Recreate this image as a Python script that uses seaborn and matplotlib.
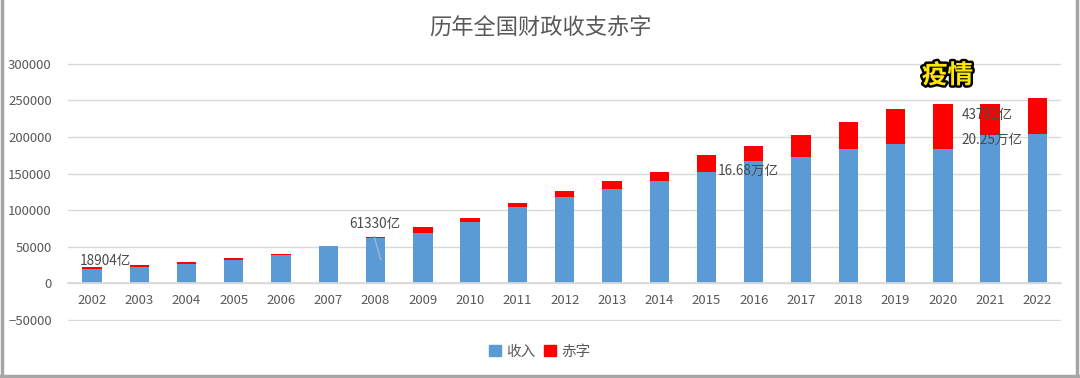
import pandas as pd
import matplotlib.pyplot as plt
import matplotlib.patheffects as pe
from matplotlib.lines import Line2D
from matplotlib.patches import Patch
import seaborn as sns

# 年份, 收入 and 赤字 (亿元)
years = ['2002', '2003', '2004', '2005', '2006', '2007', '2008', '2009', '2010', '2011', '2012',
         '2013', '2014', '2015', '2016', '2017', '2018', '2019', '2020', '2021', '2022']
revenue = [18904, 21715, 26396, 31649, 38760, 51322, 61330, 68518, 83102, 103874, 117254,
           129210, 140370, 152269, 166800, 172593, 183360, 190390, 182914, 202539, 203703]
deficit = [3149, 2935, 2091, 2281, 1663, 0, 1263, 7782, 6772, 5374, 8699,
           11002, 11416, 23609, 21500, 30492, 37546, 48484, 62765, 43134, 49700]
y_ticks = [-50000, 0, 50000, 100000, 150000, 200000, 250000, 300000]

df = pd.DataFrame({'年份': years, '收入': revenue, '赤字': deficit})
df['支出'] = df['收入'] + df['赤字']

sns.set_theme(style='white')
plt.rcParams['font.family'] = ['Noto Sans CJK SC', 'DejaVu Sans']
grey = '#595959'
blue = '#5b9bd5'
red = '#ff0000'

fig = plt.figure(figsize=(10.8, 3.78), dpi=100)
ax = fig.add_axes([0.0633, 0.152, 0.9191, 0.681])

# stacked look: total (red) first, revenue (blue) on top of it
sns.barplot(data=df, x='年份', y='支出', color=red, saturation=1, width=0.41, linewidth=0, ax=ax)
sns.barplot(data=df, x='年份', y='收入', color=blue, saturation=1, width=0.41, linewidth=0, ax=ax)

ax.set_ylim(-51000, 301000)
ax.set_xlim(-0.5, len(years) - 0.5)
ax.set_yticks(y_ticks)
ax.yaxis.grid(True, color='#d9d9d9', linewidth=1)
ax.set_axisbelow(True)
ax.set_xlabel('')
ax.set_ylabel('')
for s in ['top', 'right', 'left']:
    ax.spines[s].set_visible(False)
ax.spines['bottom'].set_position(('data', 0))
ax.spines['bottom'].set_color('#d9d9d9')
ax.tick_params(axis='both', length=0, labelsize=9.5, labelcolor=grey)
ax.tick_params(axis='x', pad=8)
ax.tick_params(axis='y', pad=12)

fig.text(0.5, 0.928, '历年全国财政收支赤字', ha='center', va='center', fontsize=16, color=grey)

# annotations
lab = dict(fontsize=9.8, color='#4a4a4a', va='center', ha='left')
ax.text(-0.25, 30500, '18904亿', **lab)
ax.text(5.45, 81200, '61330亿', **lab)
ax.plot([5.97, 6.11], [64000, 32000], color='#9fb6d8', lw=1)
ax.text(13.23, 153800, '16.68万亿', **lab)
ax.text(18.39, 230600, '43782亿', **lab)
ax.text(18.39, 196300, '20.25万亿', **lab)
ax.text(18.1, 284000, '疫情', fontsize=18.5, fontweight='heavy', color='#ffe800', ha='center', va='center',
        path_effects=[pe.withStroke(linewidth=3.5, foreground='black')])

handles = [Patch(color=blue, label='收入'), Patch(color=red, label='赤字')]
fig.legend(handles=handles, loc='center', bbox_to_anchor=(0.5, 0.069), ncol=2, frameon=False,
           fontsize=10.5, labelcolor=grey, handlelength=0.8, handleheight=0.8,
           handletextpad=0.4, columnspacing=0.6)

# frame of the screenshot
for xs, ys in [([0.002, 0.002], [0, 1]), ([0.997, 0.997], [0, 1]), ([0, 1], [0.005, 0.005])]:
    fig.add_artist(Line2D(xs, ys, color='#a6a6a6', lw=2.5, transform=fig.transFigure))

fig.savefig('out.png', dpi=100)
